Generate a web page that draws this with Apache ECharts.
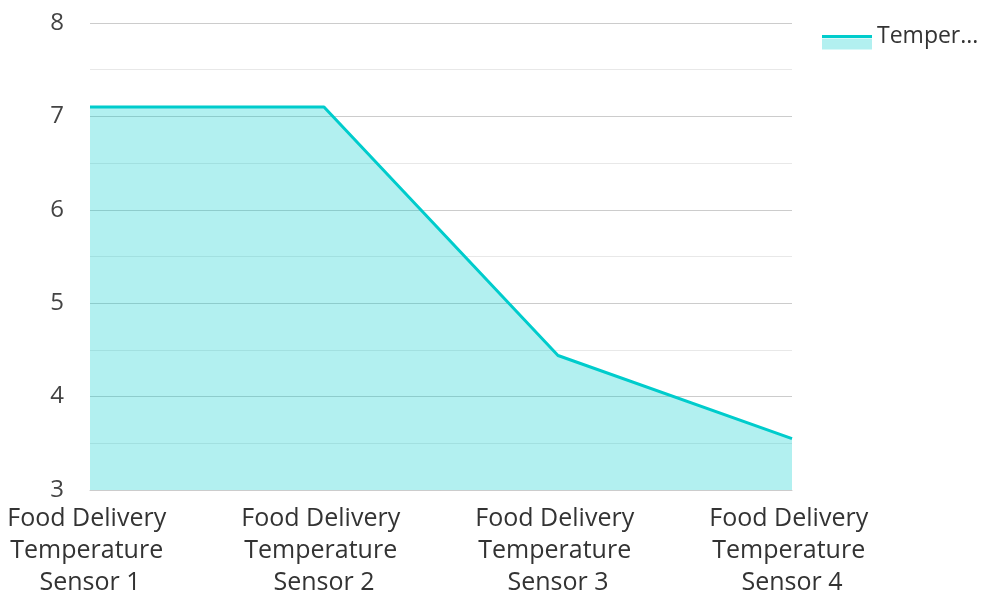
<!DOCTYPE html>
<html><head><meta charset="utf-8">
<script src="https://cdn.jsdelivr.net/npm/echarts@6/dist/echarts.min.js"></script>
<style>html,body{margin:0;padding:0;background:#fff}#c{width:982px;height:594px}</style>
</head><body><div id="c"></div>
<script>
const categories = ["Food Delivery Temperature Sensor 1","Food Delivery Temperature Sensor 2","Food Delivery Temperature Sensor 3","Food Delivery Temperature Sensor 4"];
const seriesName = "Temperature";
const temperatureValues = [7.1, 7.1, 4.44, 3.55];
const yTicks = {min: 3, max: 8, interval: 1};

const FONT = "Open Sans";
const chart = echarts.init(document.getElementById('c'));
chart.setOption({
  animation: false,
  textStyle: {fontFamily: FONT},
  grid: {left: 90, right: 190, top: 23, bottom: 104, containLabel: false, outerBoundsMode: 'none'},
  legend: [{
    data: [seriesName], left: 817, top: 27, orient: 'vertical',
    icon: 'rect', itemWidth: 50, itemHeight: 11, itemGap: 10,
    itemStyle: {color: 'rgba(0,204,204,0.3)', borderWidth: 0},
    textStyle: {fontFamily: FONT, fontSize: 24, color: 'rgba(0,0,0,0)', width: 108, overflow: 'truncate', ellipsis: '...'},
    formatter: function(){ return ' '; }
  },{
    data: [seriesName], left: 817, top: 20, orient: 'vertical',
    icon: 'rect', itemWidth: 50, itemHeight: 3,
    itemStyle: {color: '#00cccc', borderWidth: 0},
    textStyle: {fontFamily: FONT, fontSize: 23, color: '#333', width: 108, overflow: 'truncate', ellipsis: '...'}
  }],
  xAxis: {
    type: 'category', data: categories, boundaryGap: false,
    axisLine: {show: true, lineStyle: {color: '#cccccc'}},
    axisTick: {show: false},
    axisLabel: {fontFamily: FONT, fontSize: 25, color: '#333', lineHeight: 32, width: 185, overflow: 'break', margin: 13, interval: 0}
  },
  yAxis: {
    type: 'value', min: yTicks.min, max: yTicks.max, interval: yTicks.interval,
    axisLine: {show: false}, axisTick: {show: false},
    axisLabel: {fontFamily: FONT, fontSize: 24, color: '#444', margin: 26},
    splitLine: {lineStyle: {color: '#cccccc', width: 1}},
    minorTick: {show: false, splitNumber: 2},
    minorSplitLine: {show: true, lineStyle: {color: '#e8e8e8', width: 1}}
  },
  series: [{
    name: seriesName, type: 'line', data: temperatureValues,
    symbol: 'none', lineStyle: {color: '#00cccc', width: 3},
    itemStyle: {color: '#00cccc'},
    areaStyle: {color: '#00cccc', opacity: 0.3}
  }]
});
</script></body></html>
